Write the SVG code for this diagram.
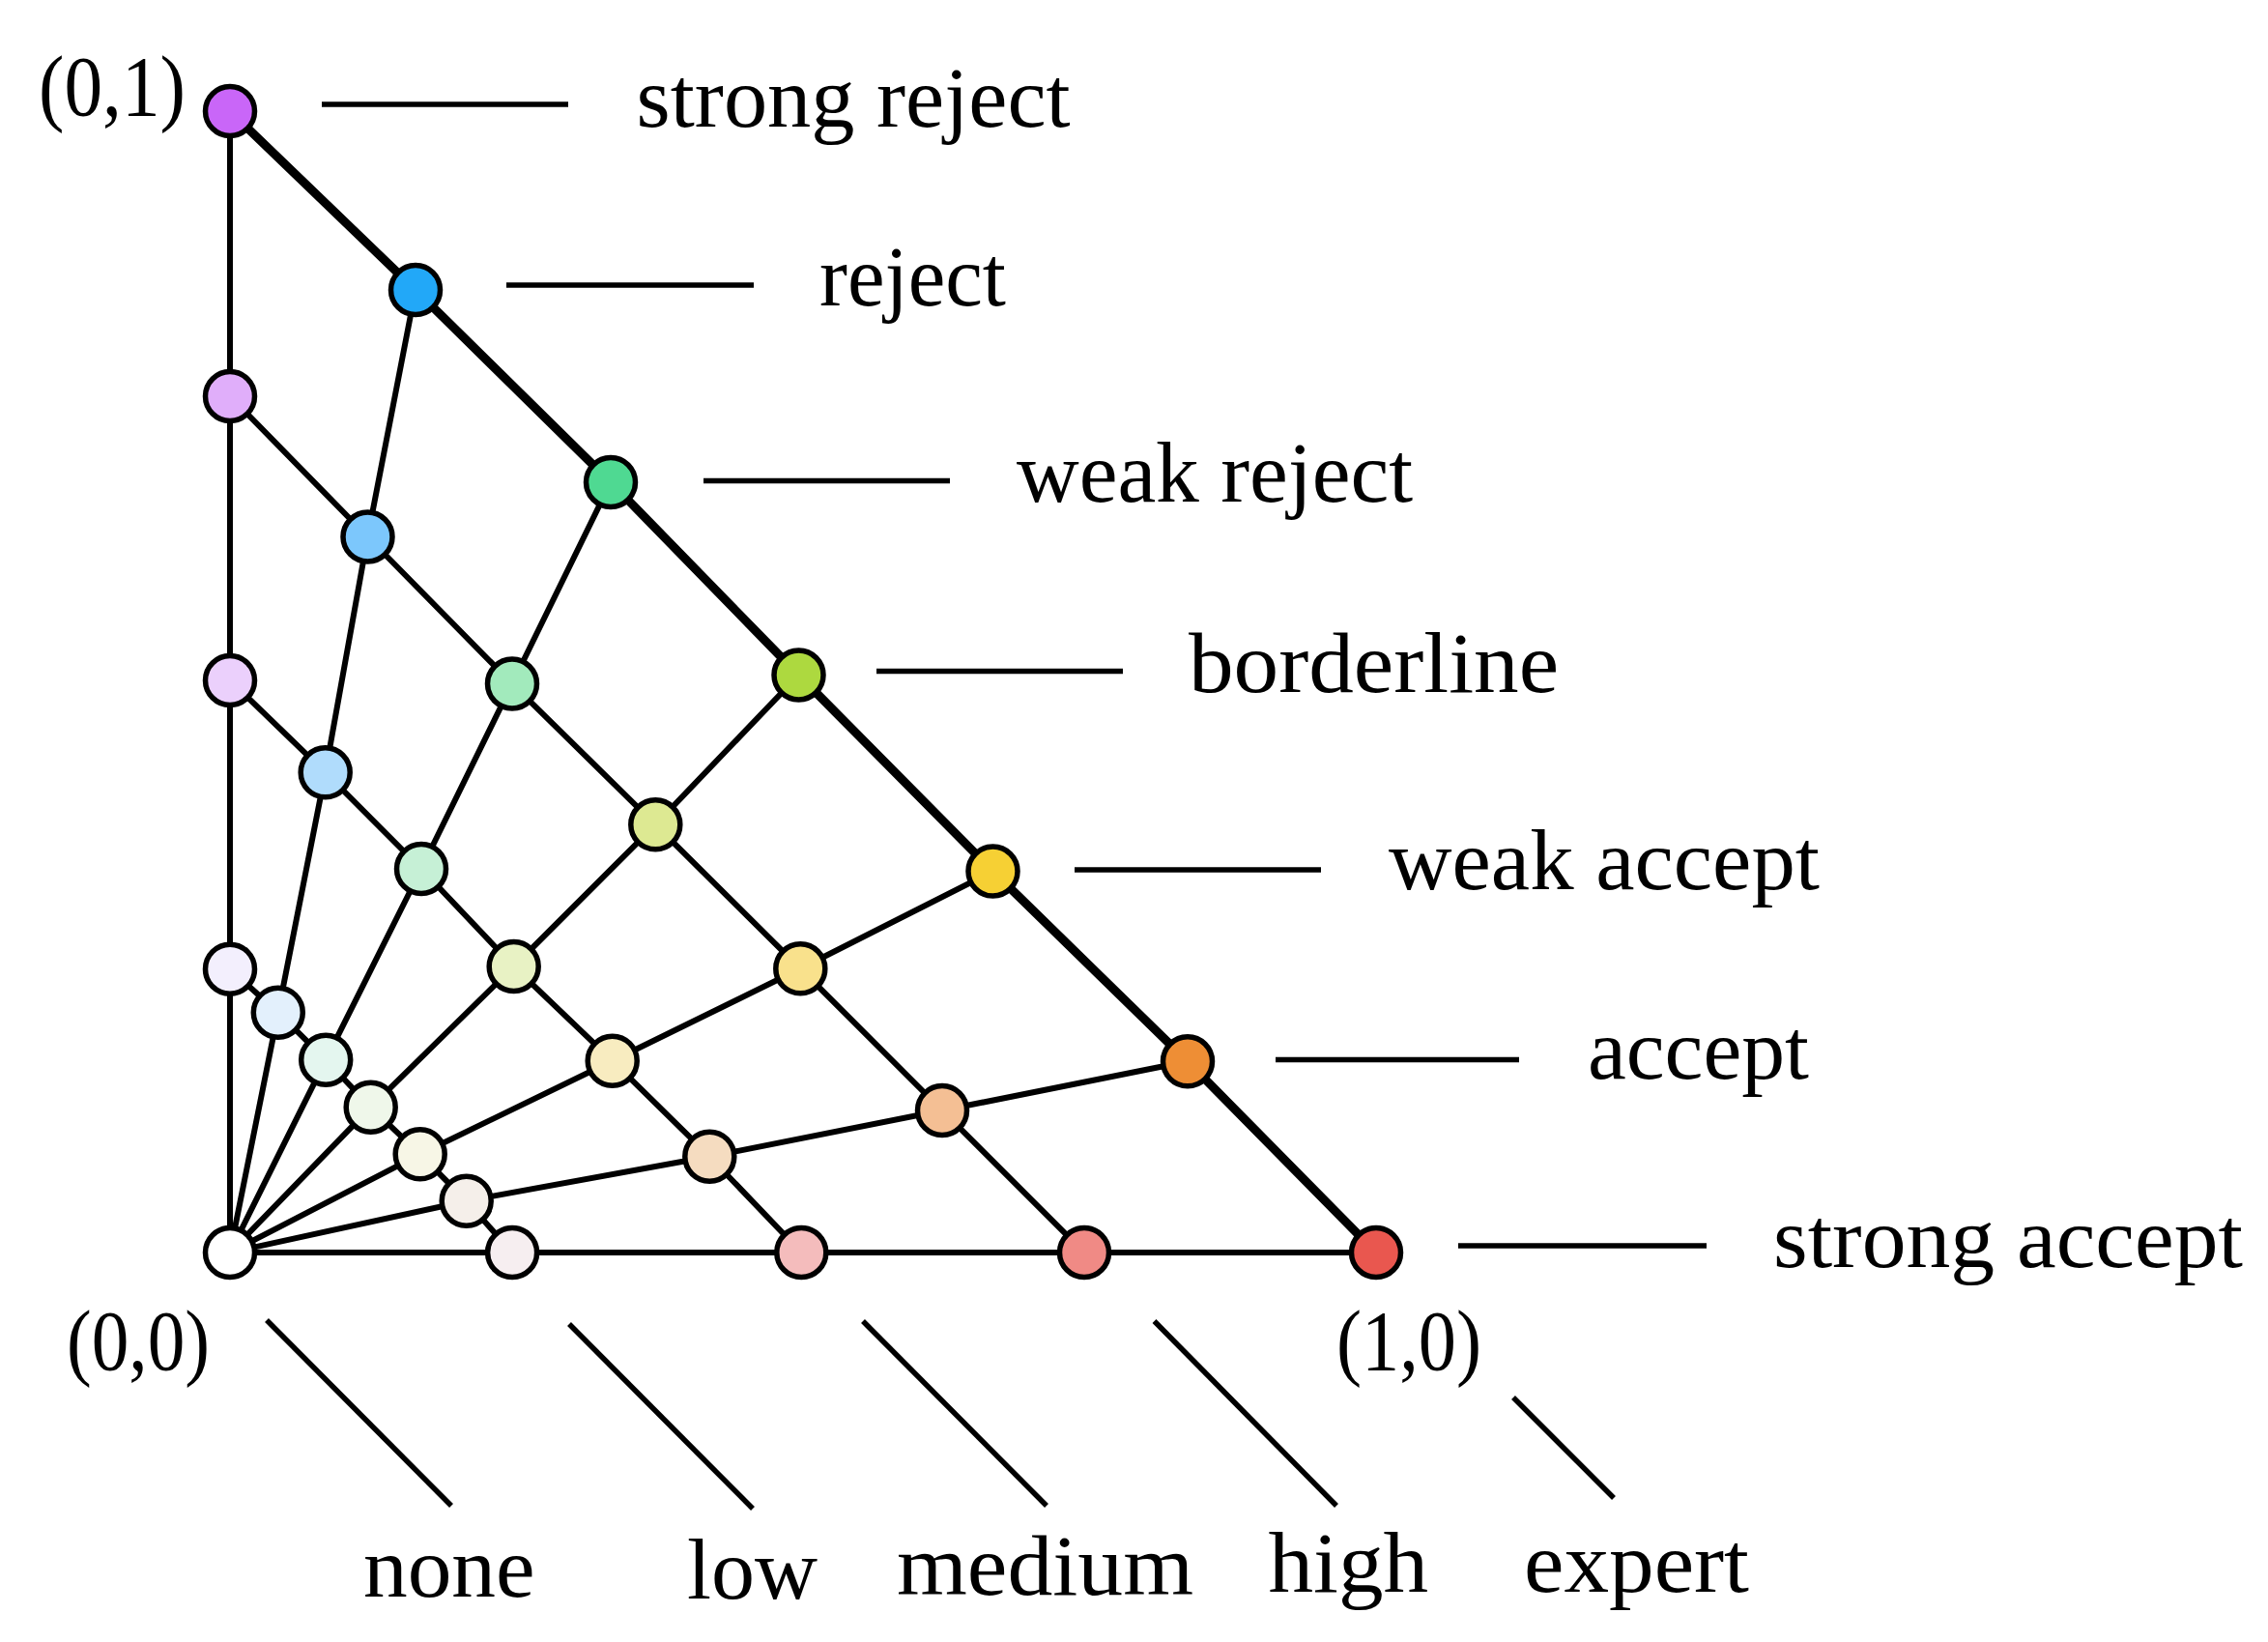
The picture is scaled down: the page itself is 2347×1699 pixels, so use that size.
<svg xmlns="http://www.w3.org/2000/svg" width="2347" height="1699" viewBox="0 0 2347 1699">
<style>
.thin{fill:none;stroke:#000;stroke-width:6;stroke-linejoin:round}
.thick{fill:none;stroke:#000;stroke-width:9;stroke-linejoin:round}
.lbl{fill:none;stroke:#000;stroke-width:5.5}
.node circle{stroke:#000;stroke-width:5.5}
text{font-family:"Liberation Serif","Times New Roman",serif;font-size:88px;fill:#000}
</style>
<rect width="2347" height="1699" fill="#fff"/>
<g id="connectors">
<!-- axes -->
<line class="thin" x1="238" y1="115" x2="238" y2="1296"/>
<line class="thin" x1="238" y1="1296" x2="1424" y2="1296"/>
<!-- rays -->
<polyline class="thin" points="238,1296 287.8,1047.7 336.7,799.3 380.5,555.5 430,300"/>
<polyline class="thin" points="238,1296 337.2,1096.7 436,899 530,707.5 632,499"/>
<polyline class="thin" points="238,1296 383.7,1145.7 531.7,1000 678.3,853.3 826.5,698.5"/>
<polyline class="thin" points="238,1296 434.7,1194.3 633.7,1097.7 828.3,1002.3 1027.5,901.5"/>
<polyline class="thin" points="238,1296 482.7,1242.7 734.3,1196.7 975,1149 1229,1098.3"/>
<!-- diagonals -->
<polyline class="thin" points="238,1002.7 287.8,1047.7 337.2,1096.7 383.7,1145.7 434.7,1194.3 482.7,1242.7 530.1,1296"/>
<polyline class="thin" points="238,704 336.7,799.3 436,899 531.7,1000 633.7,1097.7 734.3,1196.7 829.3,1296"/>
<polyline class="thin" points="238,410 380.5,555.5 530,707.5 678.3,853.3 828.3,1002.3 975,1149 1122,1296"/>
<polyline class="thick" points="238,115 430,300 632,499 826.5,698.5 1027.5,901.5 1229,1098.3 1424,1296"/>
<!-- label leaders -->
<line class="lbl" x1="333" y1="108" x2="588" y2="108"/>
<line class="lbl" x1="524" y1="295" x2="780" y2="295"/>
<line class="lbl" x1="728" y1="497.5" x2="983" y2="497.5"/>
<line class="lbl" x1="907" y1="694.5" x2="1162" y2="694.5"/>
<line class="lbl" x1="1112" y1="900" x2="1367" y2="900"/>
<line class="lbl" x1="1320" y1="1096.5" x2="1572" y2="1096.5"/>
<line class="lbl" x1="1509" y1="1289" x2="1766" y2="1289"/>
<line class="lbl" x1="276" y1="1366" x2="467" y2="1558"/>
<line class="lbl" x1="589" y1="1370" x2="779" y2="1561"/>
<line class="lbl" x1="893" y1="1367" x2="1083" y2="1558"/>
<line class="lbl" x1="1194.5" y1="1367" x2="1383" y2="1558"/>
<line class="lbl" x1="1566" y1="1446" x2="1670" y2="1550"/>
</g>
<g class="node" id="n-origin"><circle cx="238" cy="1296" r="25.5" fill="#ffffff"/></g>
<g class="node" id="n-h0"><circle cx="238" cy="115" r="25.5" fill="#c966f8"/></g>
<g class="node" id="n-h1"><circle cx="430" cy="300" r="25.5" fill="#22a8f8"/></g>
<g class="node" id="n-h2"><circle cx="632" cy="499" r="25.5" fill="#4fd992"/></g>
<g class="node" id="n-h3"><circle cx="826.5" cy="698.5" r="25.5" fill="#add93f"/></g>
<g class="node" id="n-h4"><circle cx="1027.5" cy="901.5" r="25.5" fill="#f6d034"/></g>
<g class="node" id="n-h5"><circle cx="1229" cy="1098.3" r="25.5" fill="#ee8e35"/></g>
<g class="node" id="n-h6"><circle cx="1424" cy="1296" r="25.5" fill="#e9574f"/></g>
<g class="node" id="n-m0"><circle cx="238" cy="410" r="25.5" fill="#e0aefa"/></g>
<g class="node" id="n-m1"><circle cx="380.5" cy="555.5" r="25.5" fill="#7cc7fc"/></g>
<g class="node" id="n-m2"><circle cx="530" cy="707.5" r="25.5" fill="#a2eabc"/></g>
<g class="node" id="n-m3"><circle cx="678.3" cy="853.3" r="25.5" fill="#dde992"/></g>
<g class="node" id="n-m4"><circle cx="828.3" cy="1002.3" r="25.5" fill="#f9e18c"/></g>
<g class="node" id="n-m5"><circle cx="975" cy="1149" r="25.5" fill="#f4bf94"/></g>
<g class="node" id="n-m6"><circle cx="1122" cy="1296" r="25.5" fill="#f08a85"/></g>
<g class="node" id="n-n0"><circle cx="238" cy="704" r="25.5" fill="#ebd0fc"/></g>
<g class="node" id="n-n1"><circle cx="336.7" cy="799.3" r="25.5" fill="#b0dcfc"/></g>
<g class="node" id="n-n2"><circle cx="436" cy="899" r="25.5" fill="#c6f0d6"/></g>
<g class="node" id="n-n3"><circle cx="531.7" cy="1000" r="25.5" fill="#e8f2c4"/></g>
<g class="node" id="n-n4"><circle cx="633.7" cy="1097.7" r="25.5" fill="#f8ecc0"/></g>
<g class="node" id="n-n5"><circle cx="734.3" cy="1196.7" r="25.5" fill="#f5dcc0"/></g>
<g class="node" id="n-n6"><circle cx="829.3" cy="1296" r="25.5" fill="#f4bcbc"/></g>
<g class="node" id="n-q0"><circle cx="238" cy="1002.7" r="25.5" fill="#f3effd"/></g>
<g class="node" id="n-q1"><circle cx="287.8" cy="1047.7" r="25.5" fill="#e3f0fc"/></g>
<g class="node" id="n-q2"><circle cx="337.2" cy="1096.7" r="25.5" fill="#e4f6ef"/></g>
<g class="node" id="n-q3"><circle cx="383.7" cy="1145.7" r="25.5" fill="#eff7ea"/></g>
<g class="node" id="n-q4"><circle cx="434.7" cy="1194.3" r="25.5" fill="#f7f6e6"/></g>
<g class="node" id="n-q5"><circle cx="482.7" cy="1242.7" r="25.5" fill="#f5efea"/></g>
<g class="node" id="n-q6"><circle cx="530.1" cy="1296" r="25.5" fill="#f6eef0"/></g>
<g id="labels">
<text x="40" y="119" textLength="152" lengthAdjust="spacingAndGlyphs">(0,1)</text>
<text x="69" y="1417" textLength="148" lengthAdjust="spacingAndGlyphs">(0,0)</text>
<text x="1383" y="1417" textLength="150" lengthAdjust="spacingAndGlyphs">(1,0)</text>
<text x="658.6" y="131" textLength="449" lengthAdjust="spacingAndGlyphs">strong reject</text>
<text x="848" y="316" textLength="193" lengthAdjust="spacingAndGlyphs">reject</text>
<text x="1052" y="519" textLength="410" lengthAdjust="spacingAndGlyphs">weak reject</text>
<text x="1230" y="716" textLength="383" lengthAdjust="spacingAndGlyphs">borderline</text>
<text x="1437" y="920" textLength="446" lengthAdjust="spacingAndGlyphs">weak accept</text>
<text x="1643" y="1116" textLength="229" lengthAdjust="spacingAndGlyphs">accept</text>
<text x="1835" y="1311" textLength="486" lengthAdjust="spacingAndGlyphs">strong accept</text>
<text x="376" y="1651.5" textLength="177.6" lengthAdjust="spacingAndGlyphs">none</text>
<text x="711" y="1654" textLength="135" lengthAdjust="spacingAndGlyphs">low</text>
<text x="928" y="1650" textLength="307" lengthAdjust="spacingAndGlyphs">medium</text>
<text x="1312.5" y="1646.5" textLength="165.5" lengthAdjust="spacingAndGlyphs">high</text>
<text x="1577" y="1646.5" textLength="233" lengthAdjust="spacingAndGlyphs">expert</text>
</g>
</svg>
